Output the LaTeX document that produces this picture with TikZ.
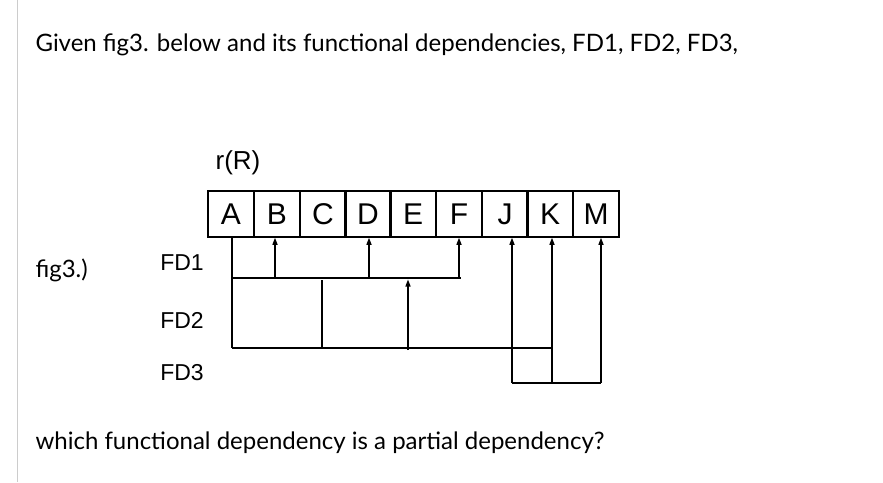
\documentclass[tikz,border=0pt]{standalone}
\usepackage{fontspec}
\setmainfont{Lato}
\newfontfamily\arial{Liberation Sans}
\usetikzlibrary{arrows.meta}
\begin{document}
\begin{tikzpicture}[x=1pt,y=-1pt,
  cell/.style={draw,line width=1.5pt,minimum width=46pt,minimum height=46pt,inner sep=0pt,font=\arial\fontsize{30}{30}\selectfont},
  lbl/.style={font=\arial\fontsize{23}{23}\selectfont},
  txt/.style={font=\fontsize{24}{24}\selectfont,anchor=west},
  ln/.style={line width=1.3pt},
  ar/.style={line width=1.3pt,-{Triangle[length=7pt,width=5pt]}}]
\useasboundingbox (0,0) rectangle (883,482);
\fill[white] (0,0) rectangle (883,482);
\draw[gray!40,line width=1pt] (17,0) -- (17,482);
\node[txt] (t) at (32,45) {Given fig3. below and its functional dependencies, FD1, FD2, FD3,};
\node[txt] (b) at (32,443) {which functional dependency is a partial dependency?};
\node[txt] (f) at (32,270) {fig3.)};
\node[lbl,font=\arial\fontsize{26}{26}\selectfont] (r) at (238,163) {r(R)};
\node[lbl] (fd1) at (182,263) {FD1};
\node[lbl] (fd2) at (182,320) {FD2};
\node[lbl] (fd3) at (182,373) {FD3};
\foreach \n/\x in {A/231,B/277,C/323,D/368,E/413,F/459,J/505,K/550,M/596}
  \node[cell] (\n) at (\x,214) {\n};
% FD1
\coordinate (a1) at (232,278); \coordinate (a2) at (232,348);
\draw[ln] (A.south -| a1) -- (a2);
\draw[ln] (a1) -- (461,278);
\coordinate (fdb) at (275,278); \draw[ar] (fdb) -- (fdb |- B.south);
\coordinate (fdd) at (369,278); \draw[ar] (fdd) -- (fdd |- D.south);
\coordinate (fdf) at (459,278); \draw[ar] (fdf) -- (fdf |- F.south);
% FD2
\coordinate (c1) at (322,280); \draw[ln] (c1) -- (322,348);
\draw[ln] (a2) -- (552,348) -- (552,352);
\coordinate (e1) at (408,350); \draw[ar] (e1) -- (408,279.5);
% FD3
\coordinate (j1) at (512,383); \coordinate (m1) at (601,383); \coordinate (k1) at (552,383);
\draw[ln] (j1) -- (m1);
\draw[ar] (j1) -- (j1 |- J.south);
\draw[ar] (k1) -- (k1 |- K.south);
\draw[ar] (m1) -- (m1 |- M.south);
\end{tikzpicture}
\end{document}
